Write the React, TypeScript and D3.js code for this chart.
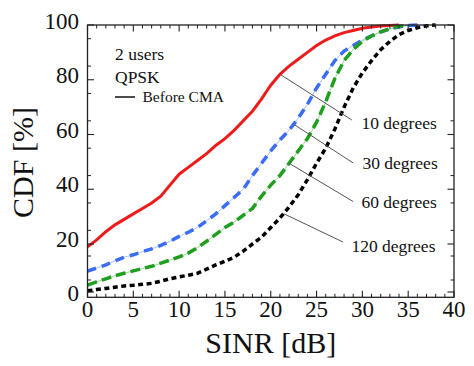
import * as d3 from "d3";

// CDF [%] per SINR step of 1 dB (index = SINR in dB)
const deg10 = [
  18.8, 21.5, 24.5, 27, 29, 31, 33, 35, 37.5, 41.5, 45.5, 48, 50.5, 53, 56, 58.5, 61.5, 65, 68.5, 73,
  78, 82, 85, 87.5, 90, 92.5, 94.5, 96, 97.2, 98, 98.8, 99.3, 99.6, 99.8, 100,
];
const deg30 = [
  8.7, 10, 11.3, 13, 14.5, 15.5, 16.8, 18, 19.4, 21, 22.8, 24.3, 26, 28.5, 31, 34, 37, 40, 45, 49.5,
  54, 58, 61.5, 66, 71, 77, 82, 87, 90.5, 92.5, 94.5, 96, 97.5, 98.5, 99.3, 99.8, 100,
];
const deg60 = [
  2.9, 4.2, 5.5, 6.8, 7.8, 8.8, 9.8, 10.7, 12, 13.3, 14.6, 16.2, 18.5, 21, 23.5, 26, 28, 30.5, 33, 37.5,
  41.5, 45, 49.5, 54, 58.5, 64.5, 72, 80.5, 87, 91, 94, 96, 97.5, 98.7, 99.5, 100,
];
const deg120 = [
  0.5, 1, 1.5, 2, 2.5, 2.8, 3.2, 3.6, 4.5, 5.5, 6.3, 7, 7.8, 9.5, 11.3, 12.8, 14.5, 17, 20, 22.5,
  26, 29.5, 33.5, 38, 43.5, 49.5, 55, 62, 70, 77, 82.5, 87, 91, 94, 96.5, 98, 99, 99.7, 100,
];

const xTicks = [0, 5, 10, 15, 20, 25, 30, 35, 40];
const yTicks = [0, 20, 40, 60, 80, 100];
const xMinor = d3.range(0, 41).filter((v) => v % 5 !== 0);
const yMinor = [5, 15, 25, 35, 45, 55, 65, 75, 85, 95];

const legendLines = ["2 users", "QPSK"];

// leader lines: series, SINR where the line leaves the curve, label end point (data units)
const notes = [
  { label: "10 degrees", s: deg10, at: 21, ex: 28.85, ey: 65.3, tx: 29.9, ty: 64.2 },
  { label: "30 degrees", s: deg30, at: 22.5, ex: 29.0, ey: 49.6, tx: 30.0, ty: 49.6 },
  { label: "60 degrees", s: deg60, at: 22, ex: 29.0, ey: 35.5, tx: 29.9, ty: 35.3 },
  { label: "120 degrees", s: deg120, at: 21.4, ex: 27.9, ey: 20.7, tx: 28.8, ty: 19.2 },
];

const W = 474;
const H = 366;
const FONT = "'Liberation Serif', 'Times New Roman', serif";

const x = d3.scaleLinear().domain([0, 40]).range([87.5, 454]);
const y = d3.scaleLinear().domain([-2.2, 0, 20, 100]).range([297.3, 292, 244, 25]);
const yLabel = d3.scaleLinear().domain([0, 100]).range([293, 21]);

const line = d3
  .line<number>()
  .x((_, i) => x(i))
  .y((d) => y(d));

const at = (s: number[], v: number) => {
  const i = Math.floor(v);
  return s[i] + (s[i + 1] - s[i]) * (v - i);
};

export default function App() {
  const [x0, x1] = x.range();
  const yb = y(-2.2);
  const yt = y(100);
  return (
    <svg width={W} height={H} style={{ position: "absolute", left: 0, top: 0, background: "#fff", fontFamily: FONT }}>
      {/* curves */}
      <path d={line(deg10)!} fill="none" stroke="#ee1b1b" strokeWidth={3} />
      <path d={line(deg30)!} fill="none" stroke="#8fb0ff" strokeWidth={0.8} />
      <path d={line(deg30)!} fill="none" stroke="#3a6cf4" strokeWidth={3.5} strokeDasharray="9 6" />
      <path d={line(deg60)!} fill="none" stroke="#80cc80" strokeWidth={0.8} />
      <path d={line(deg60)!} fill="none" stroke="#1f9e1f" strokeWidth={3.5} strokeDasharray="10 5" />
      <path d={line(deg120)!} fill="none" stroke="#000" strokeWidth={3.5} strokeDasharray="5 3.5" />

      {/* frame */}
      <rect x={x0} y={yt} width={x1 - x0} height={yb - yt} fill="none" stroke="#222" strokeWidth={1.3} />
      {xTicks.map((t) => (
        <g key={"xt" + t} stroke="#222" strokeWidth={1.1}>
          <line x1={x(t)} x2={x(t)} y1={yb} y2={yb - 6.5} />
          <line x1={x(t)} x2={x(t)} y1={yt} y2={yt + 6.5} />
        </g>
      ))}
      {xMinor.map((t) => (
        <g key={"xm" + t} stroke="#222" strokeWidth={1}>
          <line x1={x(t)} x2={x(t)} y1={yb} y2={yb - 3.5} />
          <line x1={x(t)} x2={x(t)} y1={yt} y2={yt + 3.5} />
        </g>
      ))}
      {yTicks.map((t) => (
        <g key={"yt" + t} stroke="#222" strokeWidth={1.1}>
          <line x1={x0} x2={x0 + 6.5} y1={y(t)} y2={y(t)} />
          <line x1={x1} x2={x1 - 6.5} y1={y(t)} y2={y(t)} />
        </g>
      ))}
      {yMinor.map((t) => (
        <g key={"ym" + t} stroke="#222" strokeWidth={1}>
          <line x1={x0} x2={x0 + 3.5} y1={y(t)} y2={y(t)} />
          <line x1={x1} x2={x1 - 3.5} y1={y(t)} y2={y(t)} />
        </g>
      ))}

      {/* tick labels */}
      {xTicks.map((t) => (
        <text key={"xl" + t} x={x(t)} y={317} textAnchor="middle" fontSize={23} fill="#111">
          {t}
        </text>
      ))}
      {yTicks.map((t) => (
        <text key={"yl" + t} x={79} y={yLabel(t)} dy="0.35em" textAnchor="end" fontSize={23} fill="#111">
          {t}
        </text>
      ))}

      {/* axis titles */}
      <text x={(x0 + x1) / 2} y={353} textAnchor="middle" fontSize={30} fill="#111">
        SINR [dB]
      </text>
      <text transform={`translate(33,162.5) rotate(-90)`} textAnchor="middle" fontSize={30} fill="#111">
        CDF [%]
      </text>

      {/* legend */}
      {legendLines.map((l, i) => (
        <text key={l} x={115} y={54 + i * 23} dy="0.35em" fontSize={17.5} fill="#111">
          {l}
        </text>
      ))}
      <line x1={115} x2={135} y1={97} y2={97} stroke="#111" strokeWidth={1.5} />
      <text x={142.5} y={97} dy="0.35em" fontSize={15.5} fill="#111">
        Before CMA
      </text>

      {/* leader lines and labels */}
      {notes.map((n) => (
        <g key={n.label}>
          <line x1={x(n.at)} y1={y(at(n.s, n.at))} x2={x(n.ex)} y2={y(n.ey)} stroke="#555" strokeWidth={1} />
          <text x={x(n.tx)} y={y(n.ty)} dy="0.35em" fontSize={17.5} fill="#111">
            {n.label}
          </text>
        </g>
      ))}
    </svg>
  );
}
